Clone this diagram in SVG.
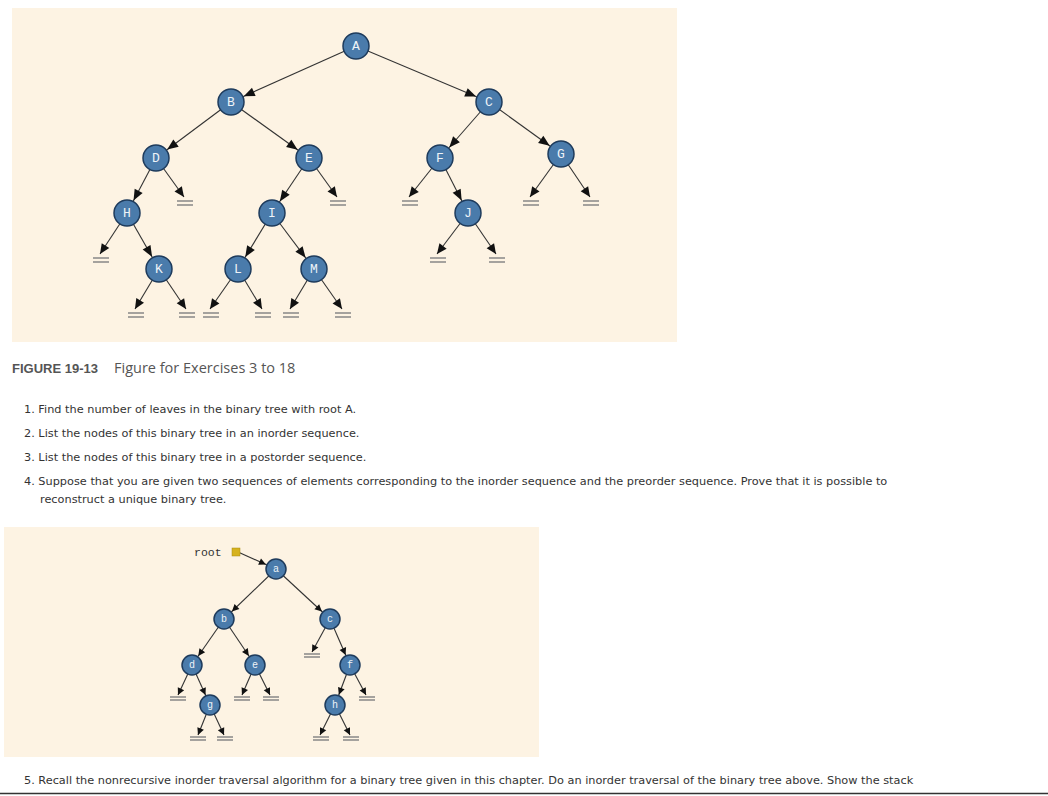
<svg xmlns="http://www.w3.org/2000/svg" width="1048" height="796" viewBox="0 0 1048 796">
<style>
.n circle{fill:#4a7bab;stroke:#1e3b5c;stroke-width:1.5}
.n text{font-family:"Liberation Mono",monospace;fill:#eef3f8;text-anchor:middle}
.big text{font-size:13px}
.sm text{font-size:10px}
.e{stroke:#333;stroke-width:1.1;fill:none}
.g{stroke:#888;stroke-width:1.3}
.t{font-family:"DejaVu Sans",sans-serif;font-size:11.3px;fill:#333}
</style>
<defs>
<marker id="ab" markerUnits="userSpaceOnUse" viewBox="-30 -6 32 12" refX="0" refY="0" markerWidth="32" markerHeight="12" orient="auto" overflow="visible"><path d="M-14,0 L-25,-4.5 L-25,4.5 z" fill="#111"/></marker>
<marker id="as" markerUnits="userSpaceOnUse" viewBox="-30 -6 32 12" refX="0" refY="0" markerWidth="32" markerHeight="12" orient="auto" overflow="visible"><path d="M-11,0 L-18,-3.5 L-18,3.5 z" fill="#111"/></marker>
<marker id="an" markerUnits="userSpaceOnUse" viewBox="-30 -6 32 12" refX="0" refY="0" markerWidth="32" markerHeight="12" orient="auto" overflow="visible"><path d="M0,0 L-10,-4.5 L-10,4.5 z" fill="#111"/></marker>
<marker id="ans" markerUnits="userSpaceOnUse" viewBox="-30 -6 32 12" refX="0" refY="0" markerWidth="32" markerHeight="12" orient="auto" overflow="visible"><path d="M0,0 L-7,-3.5 L-7,3.5 z" fill="#111"/></marker>
</defs>
<rect width="1048" height="796" fill="#fff"/>
<rect x="12" y="8" width="665" height="334" fill="#fdf3e3"/>
<rect x="4" y="527" width="535" height="230" fill="#fdf3e3"/>
<g id="connectors">
<g marker-end="url(#ab)" class="e">
<line x1="356" y1="46" x2="231" y2="102"/><line x1="356" y1="46" x2="489" y2="102"/>
<line x1="231" y1="102" x2="156" y2="158"/><line x1="231" y1="102" x2="309" y2="158"/>
<line x1="489" y1="102" x2="440" y2="158"/><line x1="489" y1="102" x2="561" y2="154"/>
<line x1="156" y1="158" x2="127" y2="213"/><line x1="309" y1="158" x2="272" y2="213"/>
<line x1="440" y1="158" x2="468" y2="213"/><line x1="127" y1="213" x2="159" y2="269"/>
<line x1="272" y1="213" x2="238" y2="269"/><line x1="272" y1="213" x2="314" y2="269"/>
</g>
<g marker-end="url(#an)" class="e">
<line x1="156" y1="158" x2="184" y2="197"/><line x1="309" y1="158" x2="337" y2="197"/>
<line x1="440" y1="158" x2="409" y2="197"/><line x1="561" y1="154" x2="530" y2="197"/><line x1="561" y1="154" x2="590" y2="197"/>
<line x1="127" y1="213" x2="100" y2="254"/><line x1="468" y1="213" x2="437" y2="254"/><line x1="468" y1="213" x2="496" y2="254"/>
<line x1="159" y1="269" x2="135" y2="309"/><line x1="159" y1="269" x2="186" y2="309"/>
<line x1="238" y1="269" x2="210" y2="309"/><line x1="238" y1="269" x2="262" y2="309"/>
<line x1="314" y1="269" x2="290" y2="309"/><line x1="314" y1="269" x2="342" y2="309"/>
</g>
<g class="g">
<path d="M177,201h16M177,205h16M330,201h16M330,205h16M402,201h16M402,205h16M523,201h16M523,205h16M583,201h16M583,205h16M93,258h16M93,262h16M430,258h16M430,262h16M489,258h16M489,262h16M128,313h16M128,317h16M179,313h16M179,317h16M203,313h16M203,317h16M255,313h16M255,317h16M283,313h16M283,317h16M335,313h16M335,317h16"/>
</g>
<g marker-end="url(#as)" class="e">
<line x1="238" y1="552" x2="276" y2="569"/>
<line x1="276" y1="569" x2="224" y2="619"/><line x1="276" y1="569" x2="330" y2="619"/>
<line x1="224" y1="619" x2="192" y2="665"/><line x1="224" y1="619" x2="255" y2="665"/>
<line x1="330" y1="619" x2="350" y2="665"/><line x1="192" y1="665" x2="210" y2="705"/>
<line x1="350" y1="665" x2="335" y2="705"/>
</g>
<g marker-end="url(#ans)" class="e">
<line x1="192" y1="665" x2="178" y2="695"/><line x1="255" y1="665" x2="242" y2="695"/><line x1="255" y1="665" x2="270" y2="695"/>
<line x1="330" y1="619" x2="312" y2="652"/><line x1="350" y1="665" x2="366" y2="695"/>
<line x1="210" y1="705" x2="198" y2="735"/><line x1="210" y1="705" x2="224" y2="735"/>
<line x1="335" y1="705" x2="320" y2="735"/><line x1="335" y1="705" x2="350" y2="735"/>
</g>
<g class="g" stroke-width="1">
<path d="M170,697h16M170,700h16M234,697h16M234,700h16M263,697h16M263,700h16M304,654h16M304,657h16M359,697h16M359,700h16M190,737h16M190,740h16M217,737h16M217,740h16M313,737h16M313,740h16M343,737h16M343,740h16"/>
</g>
</g>
<g class="n big">
<g id="A"><circle cx="356" cy="46" r="13"/><text x="356" y="50">A</text></g>
<g id="B"><circle cx="231" cy="102" r="13"/><text x="231" y="106">B</text></g>
<g id="C"><circle cx="489" cy="102" r="13"/><text x="489" y="106">C</text></g>
<g id="D"><circle cx="156" cy="158" r="13"/><text x="156" y="162">D</text></g>
<g id="E"><circle cx="309" cy="158" r="13"/><text x="309" y="162">E</text></g>
<g id="F"><circle cx="440" cy="158" r="13"/><text x="440" y="162">F</text></g>
<g id="G"><circle cx="561" cy="154" r="13"/><text x="561" y="158">G</text></g>
<g id="H"><circle cx="127" cy="213" r="13"/><text x="127" y="217">H</text></g>
<g id="I"><circle cx="272" cy="213" r="13"/><text x="272" y="217">I</text></g>
<g id="J"><circle cx="468" cy="213" r="13"/><text x="468" y="217">J</text></g>
<g id="K"><circle cx="159" cy="269" r="13"/><text x="159" y="273">K</text></g>
<g id="L"><circle cx="238" cy="269" r="13"/><text x="238" y="273">L</text></g>
<g id="M"><circle cx="314" cy="269" r="13"/><text x="314" y="273">M</text></g>
</g>
<g class="n sm">
<g id="a"><circle cx="276" cy="569" r="10"/><text x="276" y="572">a</text></g>
<g id="b"><circle cx="224" cy="619" r="10"/><text x="224" y="622">b</text></g>
<g id="c"><circle cx="330" cy="619" r="10"/><text x="330" y="622">c</text></g>
<g id="d"><circle cx="192" cy="665" r="10"/><text x="192" y="668">d</text></g>
<g id="e"><circle cx="255" cy="665" r="10"/><text x="255" y="668">e</text></g>
<g id="f"><circle cx="350" cy="665" r="10"/><text x="350" y="668">f</text></g>
<g id="g"><circle cx="210" cy="705" r="10"/><text x="210" y="708">g</text></g>
<g id="h"><circle cx="335" cy="705" r="10"/><text x="335" y="708">h</text></g>
</g>
<g id="root">
<text x="194" y="556" font-family="Liberation Mono,monospace" font-size="11.5" fill="#333">root</text>
<rect x="232" y="548" width="8" height="8" fill="#d6b21e" stroke="#a88a10" stroke-width="0.5"/>
</g>
<text x="12" y="373" font-family="Liberation Sans Narrow,Liberation Sans,sans-serif" font-weight="bold" font-size="13" fill="#555">FIGURE 19-13</text>
<text x="114" y="373" font-family="Open Sans,sans-serif" font-size="14.5" fill="#555">Figure for Exercises 3 to 18</text>
<text class="t" x="24" y="413">1. Find the number of leaves in the binary tree with root A.</text>
<text class="t" x="24" y="437">2. List the nodes of this binary tree in an inorder sequence.</text>
<text class="t" x="24" y="461">3. List the nodes of this binary tree in a postorder sequence.</text>
<text class="t" x="24" y="485">4. Suppose that you are given two sequences of elements corresponding to the inorder sequence and the preorder sequence. Prove that it is possible to</text>
<text class="t" x="40" y="503">reconstruct a unique binary tree.</text>
<text class="t" x="24" y="784">5. Recall the nonrecursive inorder traversal algorithm for a binary tree given in this chapter. Do an inorder traversal of the binary tree above. Show the stack</text>
<rect x="0" y="792" width="1048" height="4" fill="#fff"/>
<line x1="0" y1="793.5" x2="1048" y2="793.5" stroke="#333" stroke-width="1.5"/>
</svg>
